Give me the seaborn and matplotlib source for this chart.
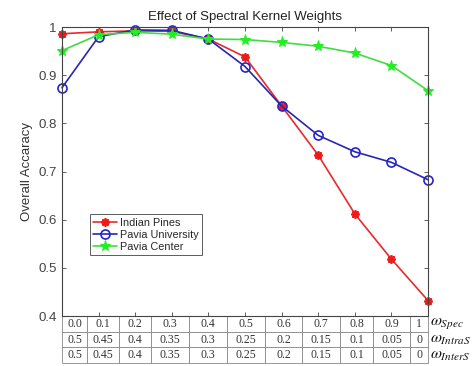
import matplotlib
matplotlib.use("Agg")
import matplotlib.pyplot as plt
import seaborn as sns

# Data
w_spec_vals = [0.0, 0.1, 0.2, 0.3, 0.4, 0.5, 0.6, 0.7, 0.8, 0.9, 1.0]
indian_pines = [0.986, 0.990, 0.992, 0.991, 0.975, 0.938, 0.836, 0.734, 0.612, 0.518, 0.432]
pavia_univ = [0.874, 0.980, 0.994, 0.993, 0.975, 0.918, 0.836, 0.775, 0.741, 0.719, 0.683]
pavia_center = [0.951, 0.984, 0.989, 0.985, 0.975, 0.974, 0.968, 0.960, 0.946, 0.920, 0.868]

row_spec = ["0.0", "0.1", "0.2", "0.3", "0.4", "0.5", "0.6", "0.7", "0.8", "0.9", "1"]
row_intra = ["0.5", "0.45", "0.4", "0.35", "0.3", "0.25", "0.2", "0.15", "0.1", "0.05", "0"]
row_inter = ["0.5", "0.45", "0.4", "0.35", "0.3", "0.25", "0.2", "0.15", "0.1", "0.05", "0"]
row_names = [r"$\omega_{Spec}$", r"$\omega_{IntraS}$", r"$\omega_{InterS}$"]

sns.set_theme(style="white")
plt.rcParams["font.family"] = ["Liberation Sans", "DejaVu Sans"]
plt.rcParams["mathtext.fontset"] = "stix"

fig = plt.figure(figsize=(4.74, 3.66), dpi=100)
ax = fig.add_axes([0.1308, 0.1366, 0.7722, 0.7896])

sns.lineplot(x=w_spec_vals, y=indian_pines, ax=ax, color="#e8292a", lw=1.2,
             marker=(8, 2, 0), markersize=6, markeredgewidth=1.3,
             markeredgecolor="#f01818", label="Indian Pines", clip_on=False)
sns.lineplot(x=w_spec_vals, y=pavia_univ, ax=ax, color="#2727b0", lw=1.2,
             marker="o", markersize=6.5, markerfacecolor="none",
             markeredgewidth=1.2, markeredgecolor="#2424c8",
             label="Pavia University", clip_on=False)
sns.lineplot(x=w_spec_vals, y=pavia_center, ax=ax, color="#40dd40", lw=1.2,
             marker="*", markersize=8, markerfacecolor="#22ee22",
             markeredgecolor="#22ee22", label="Pavia Center", clip_on=False)

ax.set_xlim(0, 1)
ax.set_ylim(0.4, 1.0)
ax.set_xticks(w_spec_vals)
ax.set_xticklabels([])
ax.set_yticks([0.4, 0.5, 0.6, 0.7, 0.8, 0.9, 1.0])
ax.set_yticklabels(["0.4", "0.5", "0.6", "0.7", "0.8", "0.9", "1"])
ax.tick_params(direction="in", length=3, width=0.6, color="#444444",
               labelsize=9.5, labelcolor="#444444", top=True, right=True,
               bottom=True, left=True, pad=4)
for sp in ax.spines.values():
    sp.set_color("#444444")
    sp.set_linewidth(0.8)

ax.set_title("Effect of Spectral Kernel Weights", fontsize=9.5, color="#222222", pad=5)
ax.set_ylabel("Overall Accaracy", fontsize=9.5, color="#333333", labelpad=4)

leg = ax.legend(loc="lower left", bbox_to_anchor=(0.077, 0.21), fontsize=7.8,
                frameon=True, fancybox=False, borderpad=0.3, labelspacing=0.2,
                handlelength=2.2, handletextpad=0.25, borderaxespad=0)
leg.get_frame().set_edgecolor("#333333")
leg.get_frame().set_linewidth(0.7)

# weight table under the axis
bounds = [62, 87, 119, 151, 189, 227, 265, 302, 340, 373, 410, 428]
col_w = [(bounds[i + 1] - bounds[i]) / 366 for i in range(len(bounds) - 1)]
tab_h = 0.163
tab = ax.table(cellText=[row_spec, row_intra, row_inter], colWidths=col_w,
               cellLoc="center", bbox=[0, -tab_h, 1, tab_h])
tab.auto_set_font_size(False)
for (r, c), cell in tab.get_celld().items():
    cell.set_edgecolor("#888888")
    cell.set_linewidth(0.6)
    cell.get_text().set_fontsize(8.5)
    cell.get_text().set_fontfamily("Liberation Serif")
    cell.get_text().set_color("#333333")

for i, name in enumerate(row_names):
    yc = -tab_h * (i + 0.5) / 3
    ax.text(1.005, yc, name, transform=ax.transAxes, fontsize=11.5,
            va="center", ha="left", color="#111111")

fig.savefig("out.png", dpi=100)
